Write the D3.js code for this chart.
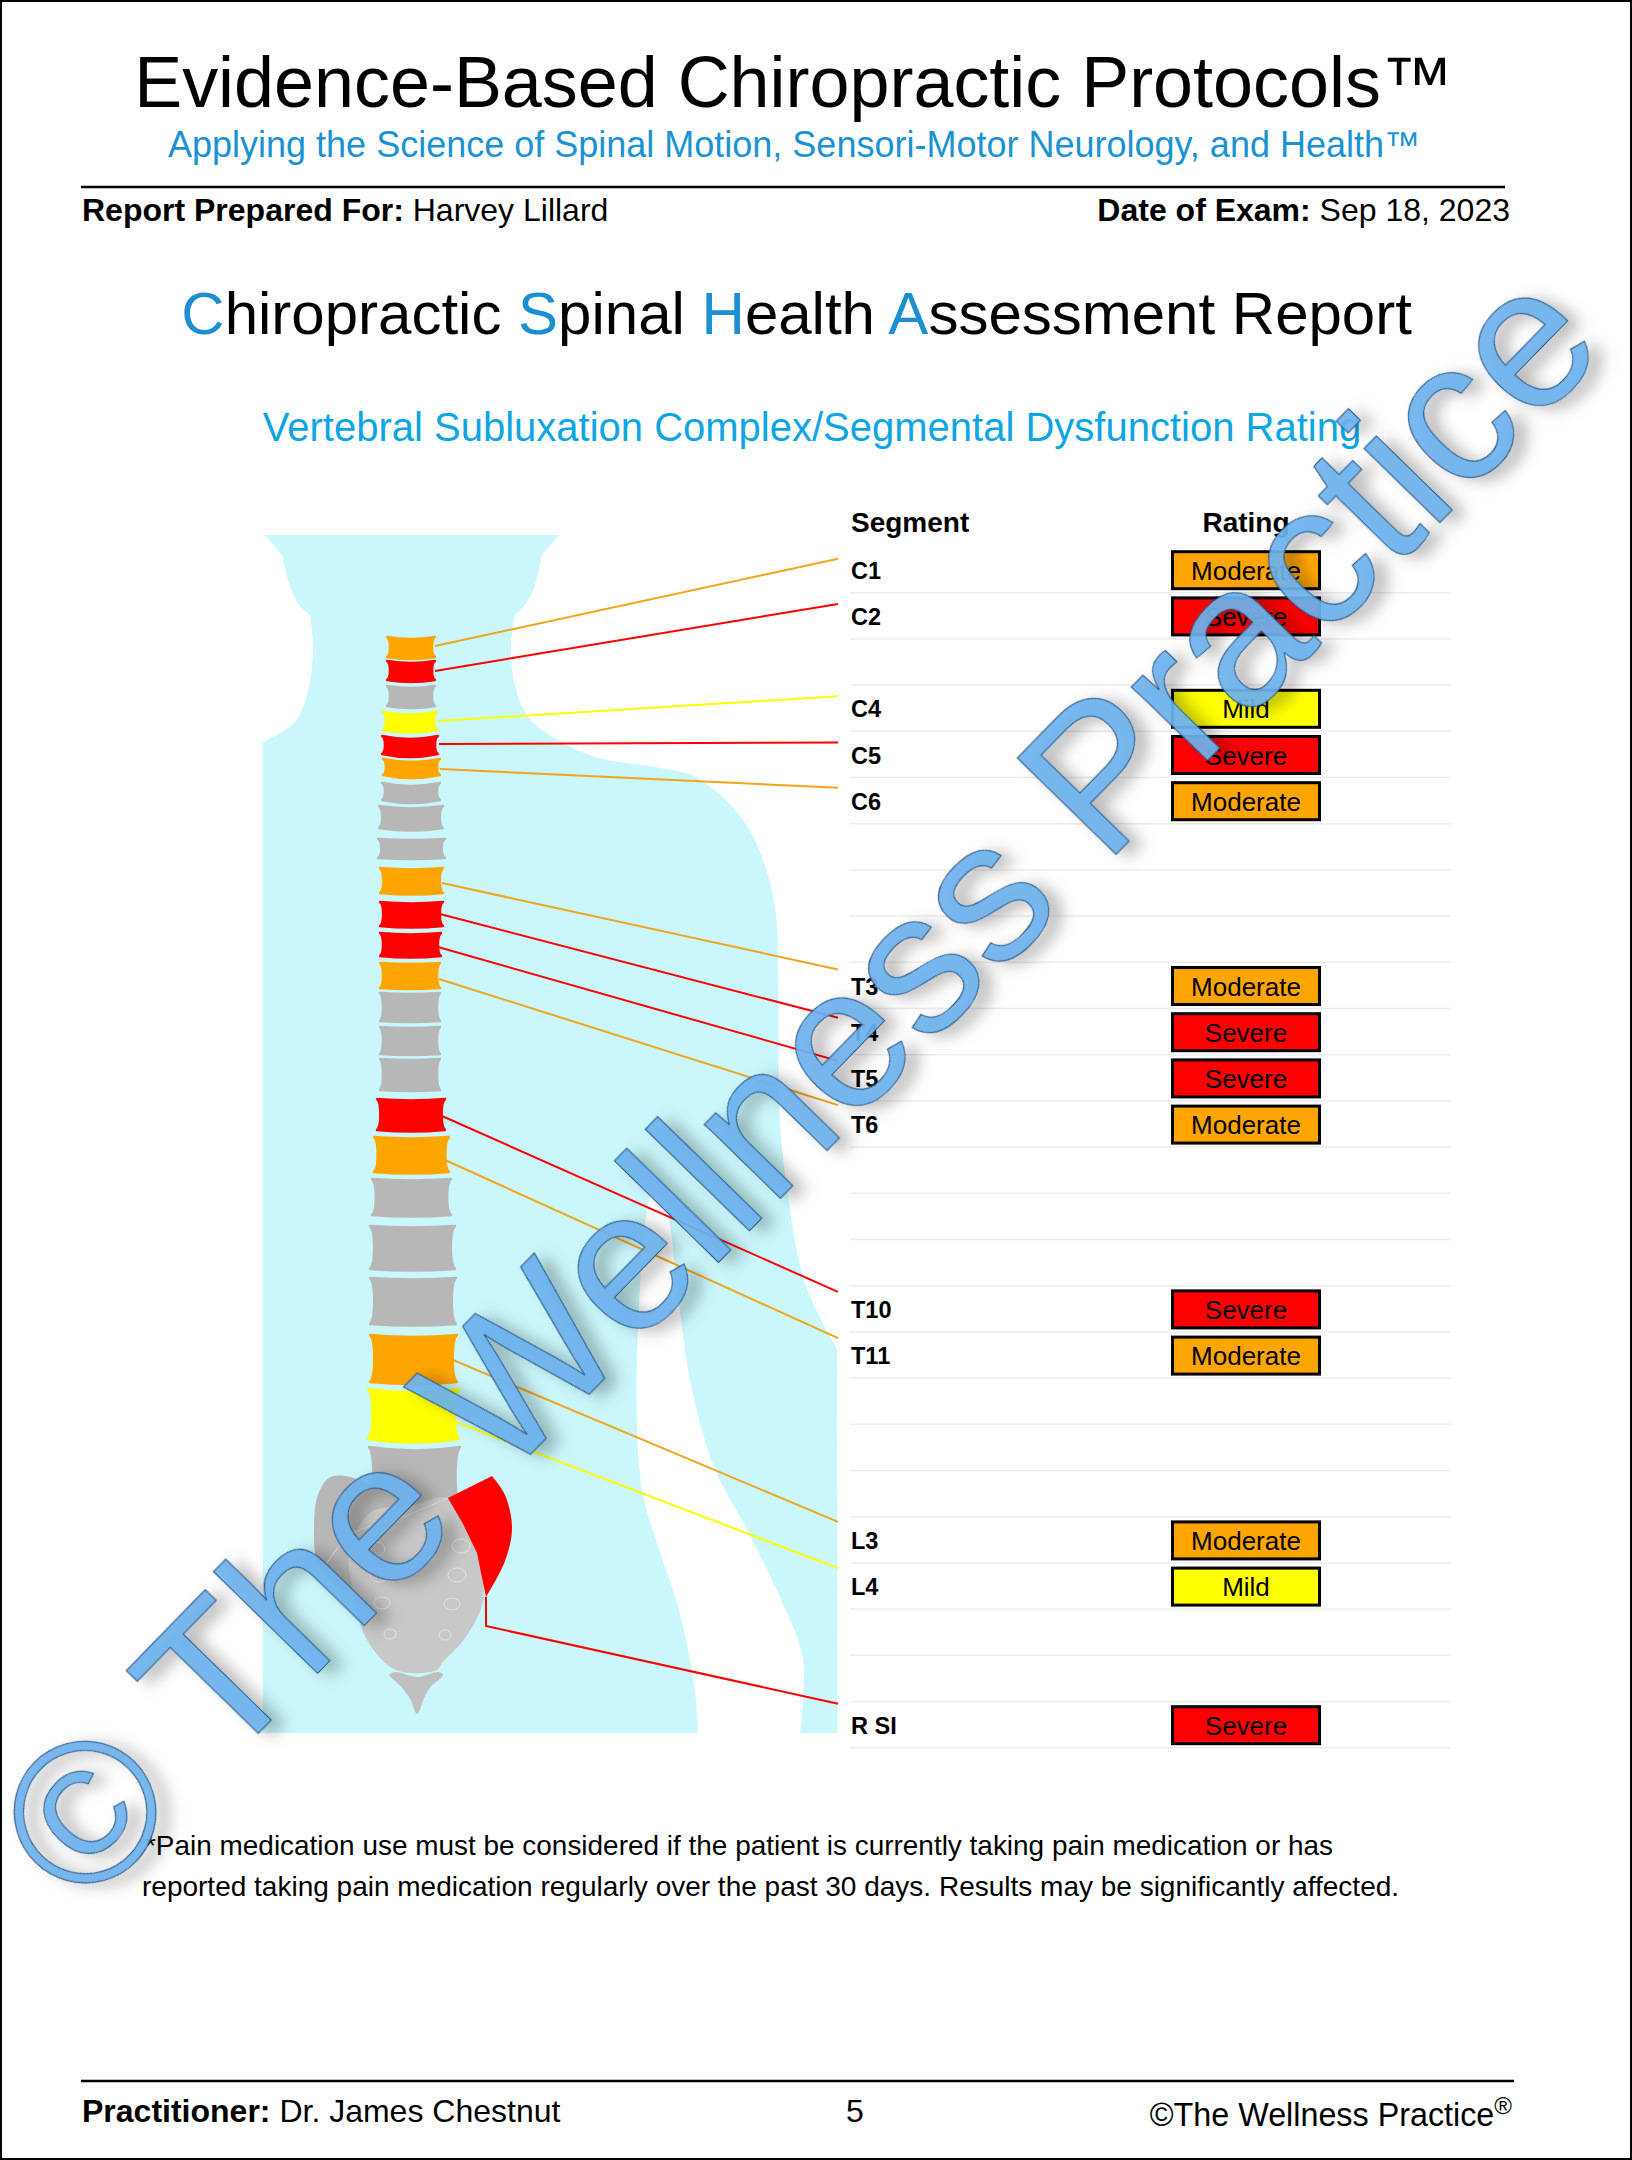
<!DOCTYPE html>
<html lang="en">
  <head>
    <meta charset="UTF-8">
    <title>Chiropractic Spinal Health Assessment Report</title>
    <script src="https://d3js.org/d3.v7.min.js"></script>
    <style>
      html, body { margin: 0; padding: 0; background: #fff; }
      svg { display: block; }
      text { font-family: "Liberation Sans", Arial, sans-serif; fill: #000; }
    </style>
  </head>
  <body>

<script>
  // table data
  const segments = ["C1","C2","C3","C4","C5","C6","C7",
                    "T1","T2","T3","T4","T5","T6","T7","T8","T9","T10","T11","T12",
                    "L1","L2","L3","L4","L5","L SI","R SI"];
  const ratings  = ["Moderate","Severe",null,"Mild","Severe","Moderate",null,
                    null,null,"Moderate","Severe","Severe","Moderate",null,null,null,"Severe","Moderate",null,
                    null,null,"Moderate","Mild",null,null,"Severe"];
  const ratingLevels = ["Mild","Moderate","Severe"];
  const ratingColors = ["#ffff00","#ffa500","#ff0000"];

  // vertebra drawing, C1 down to L5
  const vertLeft   = [387,387,387,383,382,383,382,379,378,380,380,380,380,380,380,380,377,374,372,370,370,370,368,369];
  const vertRight  = [435,435,435,437,438,440,440,443,445,443,443,441,440,440,440,440,445,449,451,455,456,457,459,460];
  const vertTop    = [637,661,686,712,736,759,783,806,839,868,902,933,963,993,1027,1059,1099,1137,1179,1226,1278,1335,1389,1447];
  const vertBottom = [659,682,708,733,758,779,804,831,858,894,927,957,988,1021,1054,1090,1131,1173,1216,1270,1325,1384,1444,1510];
  const vertBow    = [2,2,2,3,4,4,4,3,0,1,1,1,0,0,0,0,1,1,1,1,1,2,5,5];

  // where each rated segment's leader leaves the spine, and how far above the row it lands
  const leaderStartX = {C1:435,C2:435,C4:438,C5:439,C6:440,T3:442,T4:440,T5:438,T6:439,T10:442,T11:445,L3:453,L4:453};
  const leaderStartY = {C1:646,C2:671,C4:721,C5:744,C6:769,T3:883,T4:914,T5:947,T6:979,T10:1116,T11:1160,L3:1360,L4:1421};
  const leaderLift   = {C1:12,C2:13,C4:13,C5:13,C6:14,T3:17,T4:15,T5:18,T6:20,T10:18,T11:18,L3:19,L4:19};

  // silhouette outline
  const bodyLeft  = [[310,615],[313,646],[309,686],[295,722],[262.5,742]];
  const flareLeft = [[282,555],[289,583],[299,605],[310,615]];
  const flareRight = [[542,555],[535,585],[525,605],[515,615]];
  const bodyRight = [[515,615],[511,646],[515,686],[529,718],[556,739],[596,757],[655,767],[691,775],[718,793],[746,824],[766,868],[776,915],[778,963],[780,1120],[786,1181],[805,1283],[837,1349]];
  const gapLeft   = [[655,1180],[647,1210],[639,1304],[637,1426],[643,1495],[659,1549],[679,1610],[695,1691],[698,1734]];
  const gapRight  = [[800,1734],[803,1659],[782,1602],[746,1528],[714,1467],[691,1385],[679,1304],[667,1210],[655,1180]];

  // pelvis
  const iliumPts   = [[333,1476],[319,1492],[314,1528],[319,1565],[350,1592],[372,1560],[378,1492]];
  const sacrumPts  = [[371,1512],[410,1506],[448,1498],[463,1524],[477,1553],[483,1601],[465,1638],[442,1663],[437,1670],[396,1670],[366,1638],[351,1581],[349,1553]];
  const coccyxPts  = [[390,1675],[396,1673],[417,1678],[438,1673],[442,1675],[430,1686],[422,1700],[417,1713],[412,1700],[402,1686]];
  const sacroiliac = [[448,1498],[492,1476],[505,1495],[512,1528],[505,1561],[486,1597],[477,1553],[463,1524]];
  const foramina   = [[461,1546,9,7],[457,1575,9,7],[452,1604,8,6],[445,1635,6,5],[376,1549,9,7],[379,1575,9,7],[382,1603,8,6],[390,1634,6,5]];

  const w = 1632;
  const h = 2160;

  const svg = d3.select("body").append("svg")
                .attr("width", w)
                .attr("height", h);

  const defs = svg.append("defs");
  defs.append("clipPath").attr("id", "figure")
      .append("rect").attr("x", 262.5).attr("y", 535).attr("width", 575).attr("height", 1198);
  const shadow = defs.append("filter").attr("id", "markShadow")
      .attr("x", "-5%").attr("y", "-5%").attr("width", "110%").attr("height", "110%");
  shadow.append("feDropShadow").attr("dx", 7).attr("dy", 11).attr("stdDeviation", 8)
        .attr("flood-color", "#000").attr("flood-opacity", 0.3);

  // page frame
  svg.append("rect").attr("x", 1).attr("y", 1).attr("width", w - 2).attr("height", h - 2)
     .attr("fill", "none").attr("stroke", "#000").attr("stroke-width", 2);

  // ---- header ----
  function label(x, y, size, anchor, fill) {
    return svg.append("text").attr("x", x).attr("y", y)
              .attr("font-size", size).attr("text-anchor", anchor || "start")
              .style("fill", fill || "#000");
  }

  label(793.5, 107, 71.9, "middle").text("Evidence-Based Chiropractic Protocols™");
  label(794, 157, 36, "middle", "#1b93d3").text("Applying the Science of Spinal Motion, Sensori-Motor Neurology, and Health™");

  svg.append("line").attr("x1", 81).attr("x2", 1505).attr("y1", 187).attr("y2", 187)
     .attr("stroke", "#000").attr("stroke-width", 2.5);

  const prepared = label(82, 221, 32);
  prepared.append("tspan").attr("font-weight", "bold").text("Report Prepared For: ");
  prepared.append("tspan").text("Harvey Lillard");
  const examDate = label(1510, 221, 32, "end");
  examDate.append("tspan").attr("font-weight", "bold").text("Date of Exam: ");
  examDate.append("tspan").text("Sep 18, 2023");

  const heading = label(796.6, 334, 60, "middle");
  [["C","hiropractic "],["S","pinal "],["H","ealth "],["A","ssessment Report"]].forEach(d => {
    heading.append("tspan").style("fill", "#1b8fd2").text(d[0]);
    heading.append("tspan").text(d[1]);
  });

  label(812, 441, 40, "middle", "#0ea5e4").text("Vertebral Subluxation Complex/Segmental Dysfunction Rating");

  // ---- figure ----
  const smooth = d3.line().curve(d3.curveCatmullRom.alpha(0.5));
  const chain = pts => smooth(pts).replace(/^M/, "L");
  const figure = svg.append("g");

  const body = figure.append("g").attr("clip-path", "url(#figure)");
  body.append("path")
      .attr("d", "M262.5,1733 L262.5,742" + chain(bodyLeft.slice().reverse()) + chain(flareLeft.slice().reverse())
               + "L264.5,535 L559.5,535 L542,555" + chain(flareRight) + chain(bodyRight) + "L838,1733Z")
      .attr("fill", "#c9f7fb");
  body.append("path")
      .attr("d", smooth(gapLeft) + chain(gapRight) + "Z")
      .attr("fill", "#fff");

  const ratingColor = d3.scaleOrdinal(ratingLevels, ratingColors).unknown("#b7b7b7");
  const closed = d3.line().curve(d3.curveCatmullRomClosed.alpha(0.5));

  figure.append("path").attr("d", closed(iliumPts)).attr("fill", "#b7b7b7");

  // a body with flared lips at the four corners and a pinched waist
  function vertebraPath(i) {
    const l = vertLeft[i], r = vertRight[i], t = vertTop[i], b = vertBottom[i] - vertBow[i];
    const mid = (l + r) / 2, dip = vertBow[i] + 2, waist = Math.max(3, (r - l) * 0.05);
    const lip = (b - t) * 0.12;
    const p = d3.path();
    p.moveTo(l, t);
    p.quadraticCurveTo(mid, t + dip, r, t);
    p.bezierCurveTo(r - waist * 1.3, t + lip, r - waist * 1.3, b - lip, r, b);
    p.quadraticCurveTo(mid, b + dip, l, b);
    p.bezierCurveTo(l + waist * 1.3, b - lip, l + waist * 1.3, t + lip, l, t);
    p.closePath();
    return p.toString();
  }

  figure.selectAll("path.vertebra")
    .data(vertLeft.map((d, i) => i))
    .enter()
    .append("path")
    .attr("class", "vertebra")
    .attr("d", i => vertebraPath(i))
    .attr("fill", i => ratingColor(ratings[i]))
    .attr("stroke", i => ratingColor(ratings[i]))
    .attr("stroke-width", 2.4)
    .attr("stroke-linejoin", "round");

  figure.append("path").attr("d", closed(sacrumPts)).attr("fill", "#c8c8c8");
  figure.append("path").attr("d", smooth(coccyxPts) + "Z").attr("fill", "#c0c0c0")
        .attr("stroke", "#c0c0c0").attr("stroke-width", 2).attr("stroke-linejoin", "round");
  figure.append("path")
        .attr("d", d3.line().curve(d3.curveLinear)(sacroiliac.slice(0, 1))
                 + chain(sacroiliac.slice(1, 6)) + "L477,1553 L463,1524Z")
        .attr("fill", ratingColor("Severe"));

  figure.selectAll("ellipse")
    .data(foramina)
    .enter()
    .append("ellipse")
    .attr("cx", d => d[0]).attr("cy", d => d[1]).attr("rx", d => d[2]).attr("ry", d => d[3])
    .attr("fill", "none").attr("stroke", "#e4e4e4").attr("stroke-width", 1);

  figure.append("path")
        .attr("d", smooth([[326,1565],[350,1535],[400,1518],[448,1498]]))
        .attr("fill", "none").attr("stroke", "#e0e0e0").attr("stroke-width", 1);

  // ---- table ----
  const rowY = d3.scaleLinear().domain([0, segments.length - 1]).range([570.7, 1725.7]);
  const rows = segments.map((s, i) => ({ segment: s, rating: ratings[i], row: i }));
  const rated = rows.filter(d => d.rating);

  // leaders
  svg.selectAll("line.leader")
    .data(rated.filter(d => d.segment !== "R SI"))
    .enter()
    .append("line")
    .attr("class", "leader")
    .attr("x1", d => leaderStartX[d.segment])
    .attr("y1", d => leaderStartY[d.segment])
    .attr("x2", 838)
    .attr("y2", d => rowY(d.row) - leaderLift[d.segment])
    .attr("stroke", d => d.rating === "Moderate" ? "#f2a41c" : ratingColor(d.rating))
    .attr("stroke-width", 2);

  svg.append("polyline")
     .attr("points", [[486, 1597], [486, 1626], [838, rowY(25) - 22]].join(" "))
     .attr("fill", "none").attr("stroke", ratingColor("Severe")).attr("stroke-width", 2);

  label(851, 532, 28).attr("font-weight", "bold").text("Segment");
  label(1246, 532, 28, "middle").attr("font-weight", "bold").text("Rating");

  svg.selectAll("line.rule")
    .data(rows)
    .enter()
    .append("line")
    .attr("class", "rule")
    .attr("x1", 850).attr("x2", 1451)
    .attr("y1", d => rowY(d.row) + 22).attr("y2", d => rowY(d.row) + 22)
    .attr("stroke", "#ececec").attr("stroke-width", 1.5);

  svg.selectAll("text.segment")
    .data(rated)
    .enter()
    .append("text")
    .attr("class", "segment")
    .attr("x", 851)
    .attr("y", d => rowY(d.row) + 8)
    .attr("font-size", 23.5)
    .attr("font-weight", "bold")
    .text(d => d.segment);

  svg.selectAll("rect.rating")
    .data(rated)
    .enter()
    .append("rect")
    .attr("class", "rating")
    .attr("x", 1172.5)
    .attr("y", d => rowY(d.row) - 19)
    .attr("width", 147)
    .attr("height", 37)
    .attr("fill", d => ratingColor(d.rating))
    .attr("stroke", "#000")
    .attr("stroke-width", 3);

  svg.selectAll("text.rating")
    .data(rated)
    .enter()
    .append("text")
    .attr("class", "rating")
    .attr("x", 1246)
    .attr("y", d => rowY(d.row) + 9)
    .attr("font-size", 26)
    .attr("text-anchor", "middle")
    .text(d => d.rating);

  // ---- footnote and footer ----
  label(145, 1855, 27.95).text("*Pain medication use must be considered if the patient is currently taking pain medication or has");
  label(142, 1896, 28).text("reported taking pain medication regularly over the past 30 days. Results may be significantly affected.");

  svg.append("line").attr("x1", 81).attr("x2", 1514).attr("y1", 2081).attr("y2", 2081)
     .attr("stroke", "#000").attr("stroke-width", 2.5);

  const practitioner = label(82, 2122, 32);
  practitioner.append("tspan").attr("font-weight", "bold").text("Practitioner: ");
  practitioner.append("tspan").text("Dr. James Chestnut");
  label(855, 2122, 32, "middle").text("5");
  const copyright = label(1512, 2126, 32.3, "end");
  copyright.append("tspan").text("©The Wellness Practice");
  copyright.append("tspan").attr("font-size", 24).attr("dy", -12).text("®");

  // ---- watermark ----
  svg.append("text")
     .attr("transform", "translate(83,1913) rotate(-45.7)")
     .attr("font-size", 200)
     .attr("filter", "url(#markShadow)")
     .style("fill", "#6db2ee")
     .attr("fill-opacity", 0.92)
     .attr("stroke", "#25527f")
     .attr("stroke-width", 1)
     .text("© The Wellness Practice");
</script>

  </body>
</html>
